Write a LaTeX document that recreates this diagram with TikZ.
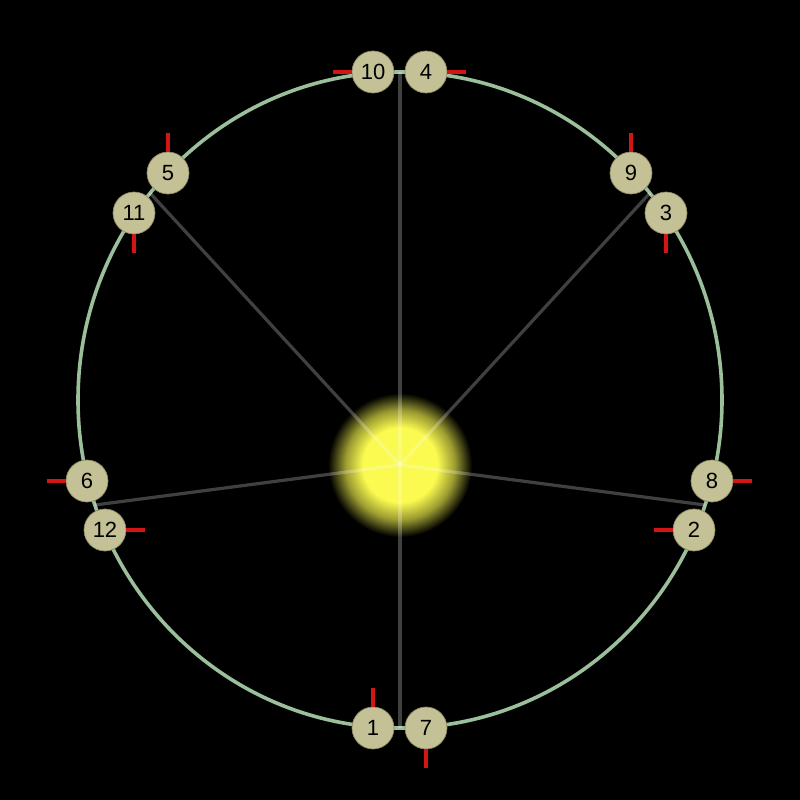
\documentclass[tikz,border=0pt]{standalone}
\usepackage{fontspec}
\setmainfont{Liberation Sans}

\definecolor{sunyellow}{RGB}{250,250,80}
\pgfdeclareradialshading{sunglow}{\pgfpoint{0bp}{0bp}}{color(0bp)=(sunyellow); color(13bp)=(sunyellow); color(19bp)=(sunyellow!62!black); color(25bp)=(black); color(50bp)=(black)}

\begin{document}
\begin{tikzpicture}[x=0.75pt,y=0.75pt,yscale=-1,xscale=1,
  planet/.style={circle, minimum size=31.5pt, inner sep=0pt, fill={rgb, 255:red, 196; green, 193; blue, 150}, draw={rgb, 255:red, 140; green, 138; blue, 100}, line width=0.5pt, font=\fontsize{16.5}{19}\selectfont},
  spoke/.style={draw=white, draw opacity=0.25, line width=2.4pt},
  tick/.style={draw={rgb, 255:red, 210; green, 22; blue, 22}, line width=3pt},
  orbit/.style={draw={rgb, 255:red, 155; green, 190; blue, 155}, line width=2.7pt}]
\useasboundingbox (0,0) rectangle (800,800);
\fill[black] (0,0) rectangle (800,800);

%Shape: Ellipse [id:orbit]
\draw[orbit] (400,400) ellipse [x radius=322, y radius=328];

%Shape: Sun glow
\coordinate (sun) at (400,465);
\shade[shading=sunglow] (sun) circle [radius=72];

%Coordinates on the orbit
\coordinate (top) at (400,72);
\coordinate (bottom) at (400,728);
\coordinate (upleft) at (150,193);
\coordinate (upright) at (650,193);
\coordinate (left) at (95,505);
\coordinate (right) at (705,505);

%Straight Lines
\draw[spoke] (top) -- (bottom);
\draw[spoke] (sun) -- (upleft);
\draw[spoke] (sun) -- (upright);
\draw[spoke] (sun) -- (left);
\draw[spoke] (sun) -- (right);

%Shape: Circles
\node[planet] (p10) at (373,72) {10};
\node[planet] (p4) at (426,72) {4};
\node[planet] (p5) at (168,173) {5};
\node[planet] (p11) at (134,213) {11};
\node[planet] (p9) at (631,173) {9};
\node[planet] (p3) at (666,213) {3};
\node[planet] (p6) at (87,481) {6};
\node[planet] (p12) at (105,530) {12};
\node[planet] (p8) at (712,481) {8};
\node[planet] (p2) at (694,530) {2};
\node[planet] (p1) at (373,728) {1};
\node[planet] (p7) at (426,728) {7};

%Straight Lines [ticks]
\draw[tick] (p10.west) -- ++(-19,0);
\draw[tick] (p4.east) -- ++(19,0);
\draw[tick] (p5.north) -- ++(0,-19);
\draw[tick] (p11.south) -- ++(0,19);
\draw[tick] (p9.north) -- ++(0,-19);
\draw[tick] (p3.south) -- ++(0,19);
\draw[tick] (p6.west) -- ++(-19,0);
\draw[tick] (p12.east) -- ++(19,0);
\draw[tick] (p8.east) -- ++(19,0);
\draw[tick] (p2.west) -- ++(-19,0);
\draw[tick] (p1.north) -- ++(0,-19);
\draw[tick] (p7.south) -- ++(0,19);

\end{tikzpicture}
\end{document}
